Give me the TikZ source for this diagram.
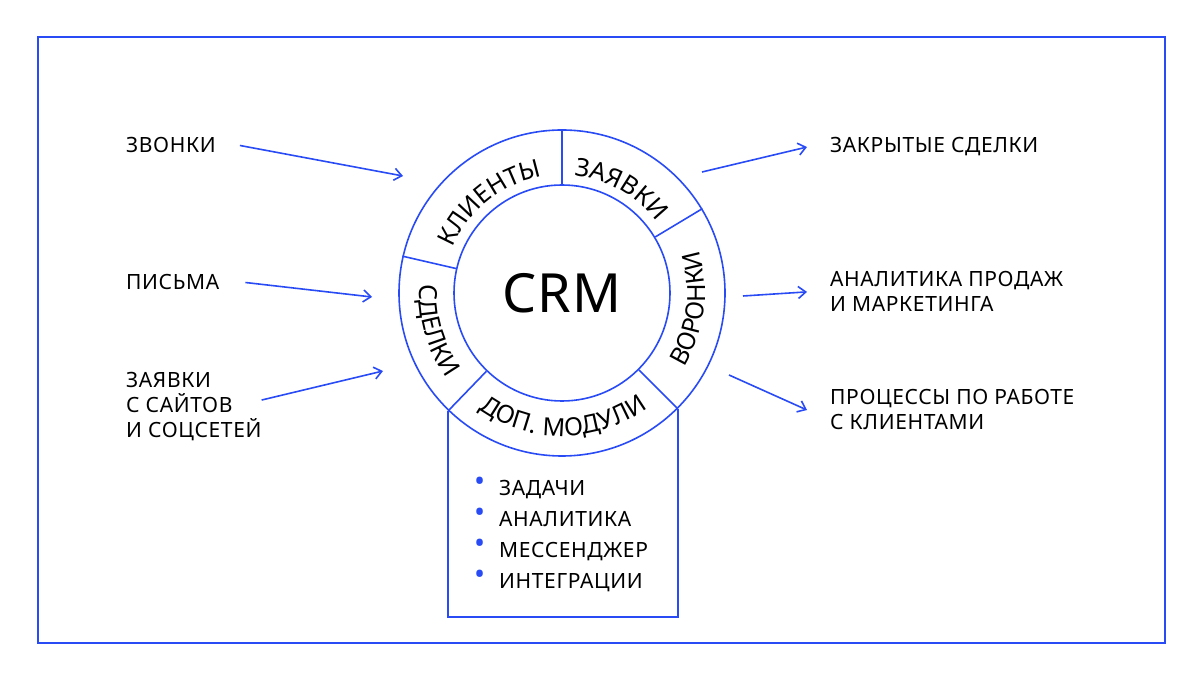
\documentclass[tikz,border=0pt]{standalone}
\usepackage{fontspec}
\usepackage{graphicx}
\setmainfont[LetterSpace=3]{Noto Sans}
\usetikzlibrary{arrows.meta,positioning,decorations.text}
\definecolor{crmblue}{RGB}{40,75,245}
\newcommand\lblfont{\fontsize{21}{25}\selectfont}
\newcommand\ringfont{\fontsize{25}{29}\selectfont}
\newcommand\bul{\makebox[25pt][l]{\textcolor{crmblue}{\raisebox{4pt}{\scalebox{1.4}{•}}}}}

\begin{document}
\begin{tikzpicture}[x=1pt, y=1pt,
                    blueline/.style={draw=crmblue, line width=1.6pt},
                    arrow/.style={blueline, -{Straight Barb[length=7.5pt, width=12pt]}},
                    lbl/.style={anchor=base west, inner sep=0, align=left, font=\lblfont},
                    crmring/.style={blueline, circle, inner sep=0, minimum size=#1},
                    ringtext/.style={decorate, decoration={text along path, text align=center, text={|\ringfont|#1}}}]
  \useasboundingbox (0,0) rectangle (1200,680);
  \node (frame)[draw=crmblue, line width=2pt, minimum width=1127pt, minimum height=606pt] at (601.5,340) {};
  % ring
  \node (outer)[crmring=326pt] at (562,387) {};
  \node (core)[crmring=216pt, font=\fontsize{54}{54}\selectfont] at (outer.center) {CRM};
  \foreach \a in {90,167,31,-45,-134}
    \draw[blueline] (core.\a) -- (outer.\a);
  \coordinate (box_bottom) at (562,63);
  \draw[blueline] (outer.-134) -- (outer.-134 |- box_bottom) -- (outer.-45 |- box_bottom) -- (outer.-45);
  \path[ringtext=КЛИЕНТЫ] ([shift={(167:118)}]outer.center) arc[start angle=167, end angle=90, radius=118];
  \path[ringtext=ЗАЯВКИ] ([shift={(90:118)}]outer.center) arc[start angle=90, end angle=31, radius=118];
  \path[ringtext=ВОРОНКИ] ([shift={(-45:143)}]outer.center) arc[start angle=-45, end angle=31, radius=143];
  \path[ringtext=ДОП. МОДУЛИ] ([shift={(-134:143)}]outer.center) arc[start angle=-134, end angle=-45, radius=143];
  \path[ringtext=СДЕЛКИ] ([shift={(167:143)}]outer.center) arc[start angle=167, end angle=226, radius=143];
  % labels
  \node (calls)[lbl] at (126,527) {ЗВОНКИ};
  \node (letters)[lbl] at (126,390) {ПИСЬМА};
  \node (requests)[lbl] at (126,242) {ЗАЯВКИ\\С САЙТОВ\\И СОЦСЕТЕЙ};
  \node (closed)[lbl] at (830,527) {ЗАКРЫТЫЕ СДЕЛКИ};
  \node (analytics)[lbl] at (830,368) {АНАЛИТИКА ПРОДАЖ\\И МАРКЕТИНГА};
  \node (processes)[lbl] at (830,250) {ПРОЦЕССЫ ПО РАБОТЕ\\С КЛИЕНТАМИ};
  \node (modules)[lbl, font=\fontsize{21}{31.3}\selectfont] at (474,91) {\bul ЗАДАЧИ\\\bul АНАЛИТИКА\\\bul МЕССЕНДЖЕР\\\bul ИНТЕГРАЦИИ};
  % arrows
  \coordinate[right=24pt of calls] (calls_out);
  \coordinate[right=26pt of letters] (letters_out);
  \coordinate (requests_out) at ([yshift=7pt]requests.east);
  \coordinate (calls_in) at (403,504);
  \coordinate (letters_in) at (372,383);
  \coordinate (requests_in) at (383,309);
  \coordinate (closed_out) at (702,508);
  \coordinate (analytics_out) at (743,384);
  \coordinate (processes_out) at (729,305);
  \coordinate[left=23pt of closed] (closed_in);
  \coordinate[left=23pt of analytics] (analytics_in);
  \coordinate[left=23pt of processes] (processes_in);
  \draw[arrow] (calls_out) -- (calls_in);
  \draw[arrow] (letters_out) -- (letters_in);
  \draw[arrow] (requests_out) -- (requests_in);
  \draw[arrow] (closed_out) -- (closed_in);
  \draw[arrow] (analytics_out) -- (analytics_in);
  \draw[arrow] (processes_out) -- (processes_in);
\end{tikzpicture}
\end{document}
